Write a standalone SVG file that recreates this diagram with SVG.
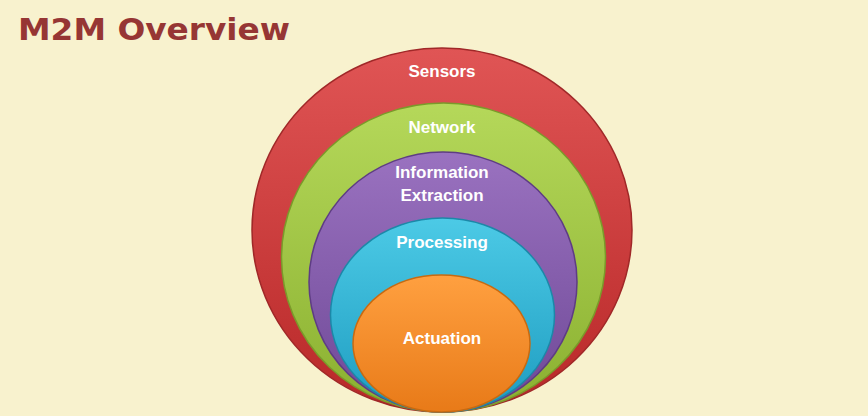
<svg xmlns="http://www.w3.org/2000/svg" width="868" height="416" viewBox="0 0 868 416">
<defs>
<linearGradient id="gr" x1="0" y1="0" x2="0" y2="1"><stop offset="0" stop-color="#E05555"/><stop offset="1" stop-color="#B82828"/></linearGradient>
<linearGradient id="gg" x1="0" y1="0" x2="0" y2="1"><stop offset="0" stop-color="#B5D85A"/><stop offset="1" stop-color="#8AB030"/></linearGradient>
<linearGradient id="gp" x1="0" y1="0" x2="0" y2="1"><stop offset="0" stop-color="#9A72C0"/><stop offset="1" stop-color="#6E4896"/></linearGradient>
<linearGradient id="gb" x1="0" y1="0" x2="0" y2="1"><stop offset="0" stop-color="#4CCAE6"/><stop offset="1" stop-color="#1E9CC0"/></linearGradient>
<linearGradient id="go" x1="0" y1="0" x2="0" y2="1"><stop offset="0" stop-color="#FFA040"/><stop offset="1" stop-color="#E87A18"/></linearGradient>
</defs>
<style>
.c{stroke-width:1.5}
.t{font-family:"Liberation Sans",Arial,sans-serif;font-weight:bold;font-size:17px;fill:#fff;text-anchor:middle}
</style>
<rect width="868" height="416" fill="#F8F2CE"/>
<text x="18" y="40" font-family="'DejaVu Sans',Verdana,sans-serif" font-weight="bold" font-size="31" fill="#963634" textLength="272" lengthAdjust="spacingAndGlyphs">M2M Overview</text>
<g id="sensors"><ellipse class="c" cx="442" cy="230" rx="190" ry="182" fill="url(#gr)" stroke="#A02828"/><text class="t" x="442" y="77">Sensors</text></g>
<g id="network"><ellipse class="c" cx="443.5" cy="257.5" rx="162" ry="154.5" fill="url(#gg)" stroke="#7A9A2A"/><text class="t" x="442" y="133">Network</text></g>
<g id="info"><ellipse class="c" cx="443" cy="282" rx="134" ry="130" fill="url(#gp)" stroke="#5E3C84"/><text class="t" x="442" y="178">Information</text><text class="t" x="442" y="201">Extraction</text></g>
<g id="processing"><ellipse class="c" cx="442.5" cy="315" rx="112" ry="97" fill="url(#gb)" stroke="#1C88A8"/><text class="t" x="442" y="248">Processing</text></g>
<g id="actuation"><ellipse class="c" cx="441.5" cy="343.5" rx="88.5" ry="68.5" fill="url(#go)" stroke="#C86A10"/><text class="t" x="442" y="344">Actuation</text></g>
<g id="connectors"/>
</svg>
